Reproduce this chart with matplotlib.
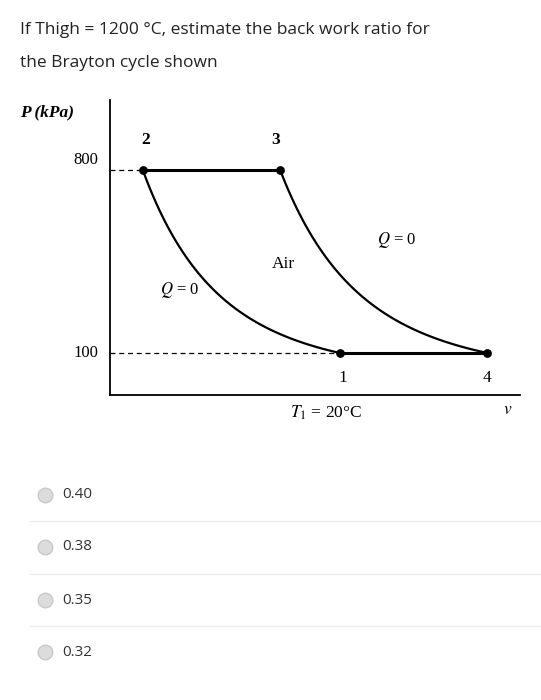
import numpy as np
import matplotlib.pyplot as plt

plt.rcParams["mathtext.fontset"] = "stix"

# state points (relative specific volume, pressure kPa)
v_pts = {"1": 0.56, "2": 0.08, "3": 0.415, "4": 0.92}
p_high = 800
p_low = 100
k = 5.0  # shape exponent for the drawn isentropes (sketch-like, gentle curves)
options = ["0.40", "0.38", "0.35", "0.32"]

fig = plt.figure(figsize=(5.41, 7.0), dpi=100, facecolor="white")

# page-level axes in pixel coordinates
bg = fig.add_axes([0, 0, 1, 1])
bg.set_xlim(0, 541)
bg.set_ylim(700, 0)
bg.axis("off")

bg.text(20, 30, "If Thigh = 1200 °C, estimate the back work ratio for",
        fontsize=12.5, family="Open Sans", va="center", color="#222222")
bg.text(20, 63, "the Brayton cycle shown",
        fontsize=12.5, family="Open Sans", va="center", color="#222222")

opt_y = [495, 547, 600, 652]
for y, lab in zip(opt_y, options):
    bg.scatter([45], [y], s=110, color="#dcdcdc", edgecolor="#c8c8c8", zorder=3)
    bg.text(62, y, lab, fontsize=11, family="Open Sans", va="center", color="#333333")
for y in [521, 574, 626]:
    bg.plot([30, 541], [y, y], color="#ececec", lw=1)

# diagram axes: x 110..520 px, y 100..395 px
ax = fig.add_axes([110 / 541, 1 - 395 / 700, 410 / 541, 295 / 700])
ax.set_xlim(0, 1)
ax.set_ylim(-61, 1068)
ax.patch.set_alpha(0)
for s in ["top", "right"]:
    ax.spines[s].set_visible(False)
for s in ["left", "bottom"]:
    ax.spines[s].set_linewidth(1.3)
ax.set_xticks([])
ax.set_yticks([])

def isentrope(va, vb):
    # P = C (v - v0)^-k through (va, p_low) and (vb, p_high)
    r = (p_high / p_low) ** (1 / k)
    v0 = (va - r * vb) / (1 - r)
    C = p_low * (va - v0) ** k
    v = np.linspace(vb, va, 100)
    return v, C * (v - v0) ** (-k)

v, p = isentrope(v_pts["1"], v_pts["2"])
ax.plot(v, p, color="black", lw=1.6)
v, p = isentrope(v_pts["4"], v_pts["3"])
ax.plot(v, p, color="black", lw=1.6)
ax.plot([v_pts["2"], v_pts["3"]], [p_high, p_high], color="black", lw=2.2)
ax.plot([v_pts["1"], v_pts["4"]], [p_low, p_low], color="black", lw=2.2)
ax.plot([0, v_pts["2"]], [p_high, p_high], color="black", lw=0.9, ls=(0, (4, 3)))
ax.plot([0, v_pts["1"]], [p_low, p_low], color="black", lw=0.9, ls=(0, (4, 3)))
ax.scatter([v_pts[n] for n in "1234"], [p_low, p_high, p_high, p_low],
           s=28, color="black", zorder=4)

serif = "Liberation Serif"
bg.text(20, 112, "P (kPa)", fontsize=12.5, family=serif, weight="bold", style="italic", va="center")
bg.text(98, 160, "800", fontsize=12, family=serif, ha="right", va="center")
bg.text(98, 353, "100", fontsize=12, family=serif, ha="right", va="center")
bg.text(146, 140, "2", fontsize=12.5, family=serif, weight="bold", ha="center", va="center")
bg.text(276, 140, "3", fontsize=12.5, family=serif, weight="bold", ha="center", va="center")
bg.text(397, 240, "$Q$ = 0", fontsize=12, family=serif, ha="center", va="center")
bg.text(283, 264, "Air", fontsize=12.5, family=serif, ha="center", va="center")
bg.text(180, 290, "$Q$ = 0", fontsize=12, family=serif, ha="center", va="center")
bg.text(343, 378, "1", fontsize=12.5, family=serif, ha="center", va="center")
bg.text(487, 378, "4", fontsize=12.5, family=serif, ha="center", va="center")
bg.text(326, 413, "$T_1$ = 20°C", fontsize=12.5, family=serif, ha="center", va="center")
bg.text(508, 410, "$v$", fontsize=12.5, family=serif, ha="center", va="center")

fig.savefig("out.png", dpi=100, facecolor="white")
